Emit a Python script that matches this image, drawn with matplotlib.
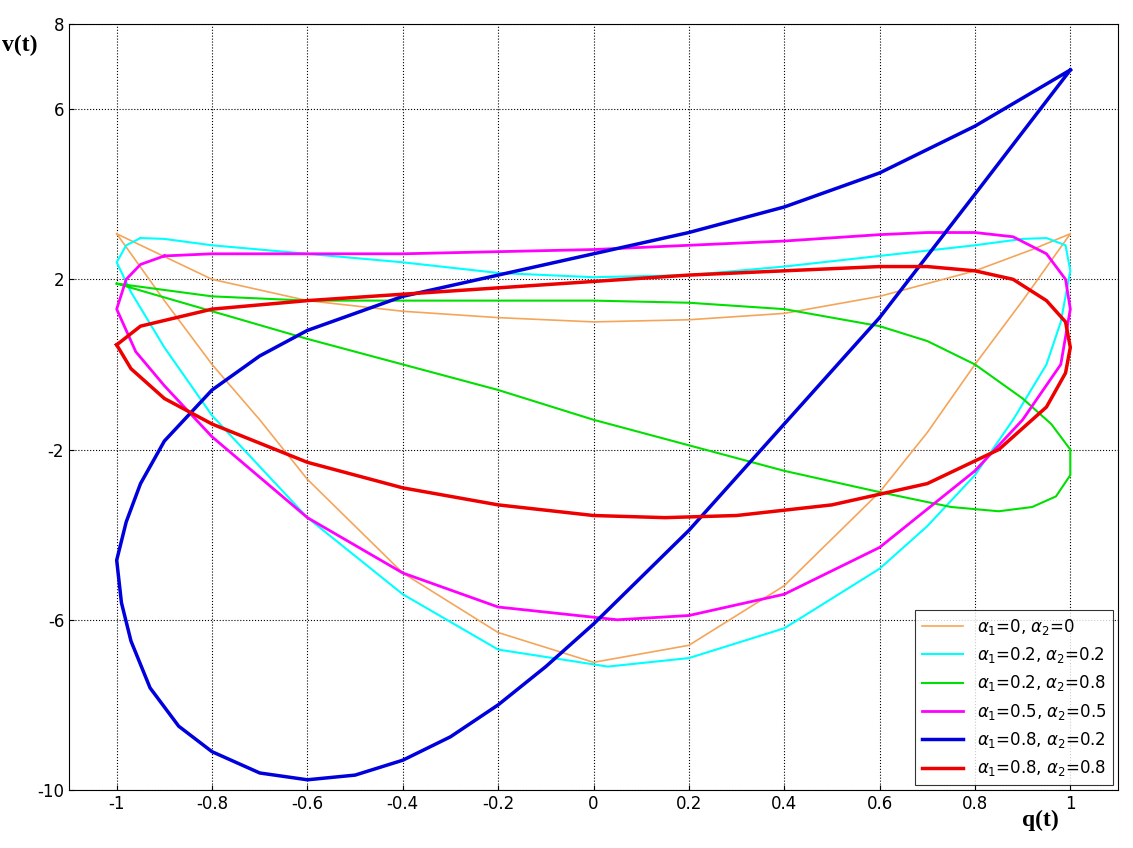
import matplotlib
matplotlib.use("Agg")
import matplotlib.pyplot as plt

orange_q = [-1, -0.8, -0.6, -0.4, -0.2, 0, 0.2, 0.4, 0.6, 0.8, 0.92, 1, 0.9, 0.8, 0.7, 0.6, 0.4, 0.2, 0, -0.2, -0.4, -0.6, -0.7, -0.8, -0.9, -1]
orange_v = [3.07, 2.0, 1.5, 1.25, 1.1, 1.0, 1.05, 1.2, 1.6, 2.2, 2.7, 3.07, 1.5, 0.0, -1.6, -3.0, -5.2, -6.6, -7.0, -6.3, -4.9, -2.7, -1.3, 0.0, 1.5, 3.07]

cyan_q = [-0.95, -0.9, -0.8, -0.6, -0.4, -0.2, 0, 0.2, 0.4, 0.6, 0.8, 0.9, 0.95, 0.99, 1.0, 0.98, 0.95, 0.88, 0.8, 0.7, 0.6, 0.4, 0.2, 0.03, -0.2, -0.4, -0.6, -0.8, -0.9, -0.97, -1.0, -0.98, -0.95]
cyan_v = [2.97, 2.95, 2.8, 2.6, 2.4, 2.15, 2.05, 2.1, 2.3, 2.55, 2.8, 2.95, 2.97, 2.8, 2.2, 1.0, 0.0, -1.3, -2.6, -3.8, -4.8, -6.2, -6.9, -7.1, -6.7, -5.4, -3.6, -1.2, 0.4, 1.7, 2.4, 2.8, 2.97]

green_q = [-1, -0.8, -0.6, -0.4, -0.2, 0, 0.2, 0.4, 0.6, 0.7, 0.8, 0.9, 0.96, 1.0, 1.0, 0.97, 0.92, 0.85, 0.75, 0.6, 0.4, 0.2, 0, -0.2, -0.4, -0.6, -0.8, -1]
green_v = [1.9, 1.6, 1.5, 1.5, 1.5, 1.5, 1.45, 1.3, 0.9, 0.55, 0.0, -0.8, -1.4, -2.0, -2.6, -3.1, -3.35, -3.45, -3.35, -3.0, -2.5, -1.9, -1.3, -0.6, 0.0, 0.6, 1.25, 1.9]

magenta_q = [-0.9, -0.8, -0.6, -0.4, -0.2, 0, 0.2, 0.4, 0.6, 0.7, 0.8, 0.88, 0.95, 0.99, 1.0, 0.98, 0.9, 0.8, 0.7, 0.6, 0.4, 0.2, 0.05, -0.2, -0.4, -0.6, -0.8, -0.9, -0.96, -1.0, -0.98, -0.95, -0.9]
magenta_v = [2.55, 2.6, 2.6, 2.6, 2.65, 2.7, 2.8, 2.9, 3.05, 3.1, 3.1, 3.0, 2.6, 2.0, 1.3, 0.0, -1.3, -2.5, -3.4, -4.3, -5.4, -5.9, -6.0, -5.7, -4.9, -3.6, -1.7, -0.5, 0.3, 1.3, 2.0, 2.35, 2.55]

blue_q = [1, 0.8, 0.6, 0.4, 0.2, 0, -0.2, -0.4, -0.6, -0.7, -0.8, -0.9, -0.95, -0.98, -1.0, -0.99, -0.97, -0.93, -0.87, -0.8, -0.7, -0.6, -0.5, -0.4, -0.3, -0.2, -0.1, 0, 0.2, 0.4, 0.6, 0.8, 1]
blue_v = [6.92, 5.6, 4.5, 3.7, 3.1, 2.6, 2.1, 1.6, 0.8, 0.2, -0.6, -1.8, -2.8, -3.7, -4.6, -5.6, -6.5, -7.6, -8.5, -9.1, -9.6, -9.76, -9.65, -9.3, -8.75, -8.0, -7.1, -6.1, -3.9, -1.4, 1.1, 4.0, 6.92]

red_q = [-1, -0.95, -0.8, -0.6, -0.4, -0.2, 0, 0.2, 0.4, 0.6, 0.7, 0.8, 0.88, 0.95, 0.99, 1.0, 0.99, 0.95, 0.85, 0.7, 0.5, 0.3, 0.15, 0, -0.2, -0.4, -0.6, -0.8, -0.9, -0.97, -1]
red_v = [0.46, 0.9, 1.3, 1.5, 1.65, 1.8, 1.95, 2.1, 2.2, 2.3, 2.3, 2.2, 2.0, 1.5, 1.0, 0.4, -0.2, -1.0, -2.0, -2.8, -3.3, -3.55, -3.6, -3.55, -3.3, -2.9, -2.3, -1.4, -0.8, -0.1, 0.46]

series = [
    (orange_q, orange_v, '#F5A55A', 1.2, r'$\alpha_1$=0, $\alpha_2$=0'),
    (cyan_q, cyan_v, '#00FFFF', 1.5, r'$\alpha_1$=0.2, $\alpha_2$=0.2'),
    (green_q, green_v, '#00E000', 1.5, r'$\alpha_1$=0.2, $\alpha_2$=0.8'),
    (magenta_q, magenta_v, '#FF00FF', 2.0, r'$\alpha_1$=0.5, $\alpha_2$=0.5'),
    (blue_q, blue_v, '#0000DD', 2.5, r'$\alpha_1$=0.8, $\alpha_2$=0.2'),
    (red_q, red_v, '#EE0000', 2.5, r'$\alpha_1$=0.8, $\alpha_2$=0.8'),
]

xticks = [-1, -0.8, -0.6, -0.4, -0.2, 0, 0.2, 0.4, 0.6, 0.8, 1]
xticklabels = ['-1', '-0.8', '-0.6', '-0.4', '-0.2', '0', '0.2', '0.4', '0.6', '0.8', '1']
yticks = [-10, -6, -2, 2, 6, 8]
yticklabels = ['-10', '-6', '-2', '2', '6', '8']

fig = plt.figure(figsize=(11.33, 8.48), dpi=100)
ax = fig.add_axes([69/1133, 1-790/848, (1118-69)/1133, (790-24)/848])
for q, v, c, lw, lab in series:
    ax.plot(q, v, color=c, lw=lw, label=lab, solid_joinstyle='round')
ax.set_xlim(-1.1, 1.1)
ax.set_ylim(-10, 8)
ax.set_xticks(xticks)
ax.set_xticklabels(xticklabels)
ax.set_yticks(yticks)
ax.set_yticklabels(yticklabels)
ax.tick_params(labelsize=12, direction='in')
ax.grid(True, color='black', linestyle=':', linewidth=0.8)
fig.text(1040/1133, 1-820/848, 'q(t)', fontsize=17, fontweight='bold', ha='center', va='center', family='Liberation Serif')
fig.text(38/1133, 1-45/848, 'v(t)', fontsize=17, fontweight='bold', ha='right', va='center', family='Liberation Serif')
leg = ax.legend(loc='lower right', fontsize=12, fancybox=False, edgecolor='black', borderaxespad=0.3, handlelength=2.5)
leg.get_frame().set_linewidth(0.8)
fig.savefig('out.png', dpi=100)
